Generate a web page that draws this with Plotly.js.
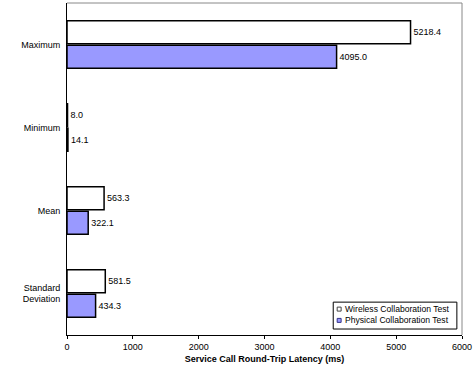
<!DOCTYPE html>
<html><head><meta charset="utf-8">
<script src="https://cdn.plot.ly/plotly-3.0.1.min.js"></script>
<style>html,body{margin:0;padding:0;background:#fff}#c{width:474px;height:366px}</style>
</head><body><div id="c"></div>
<script>
const categories = ["Maximum", "Minimum", "Mean", "Standard<br>Deviation"];
const wireless = [5218.4, 8.0, 563.3, 581.5];
const physical = [4095.0, 14.1, 322.1, 434.3];
const seriesNames = ["Wireless Collaboration Test", "Physical Collaboration Test"];
const seriesColors = ["#ffffff", "#9999ff"];
const xTicks = [0, 1000, 2000, 3000, 4000, 5000, 6000];

const fnt = {family: "Liberation Sans, Arial, sans-serif", size: 9, color: "#000"};
const mk = (vals, name, color) => ({
  type: "bar", orientation: "h", x: vals, y: categories, name: name,
  marker: {color: color, line: {color: "#000", width: 1.5}},
  text: vals.map(v => v.toFixed(1)), textposition: "outside",
  textfont: fnt, cliponaxis: false, hoverinfo: "skip", showlegend: false
});
const data = [mk(wireless, seriesNames[0], seriesColors[0]), mk(physical, seriesNames[1], seriesColors[1])];

// compact legend box (as in the reference)
const lgX0 = 0.674, lgX1 = 0.987, lgY0 = 0.018, lgY1 = 0.099;
const rowY = [0.078, 0.044];
const shapes = [
  {type: "line", xref: "paper", yref: "paper", x0: 0, x1: 1, y0: 1, y1: 1, line: {color: "#888", width: 1}},
  {type: "line", xref: "paper", yref: "paper", x0: 1, x1: 1, y0: 0, y1: 1, line: {color: "#888", width: 1}},
  {type: "rect", xref: "paper", yref: "paper", x0: lgX0, x1: lgX1, y0: lgY0, y1: lgY1,
    line: {color: "#000", width: 1}, fillcolor: "#fff"}
];
const annotations = [];
seriesNames.forEach((n, i) => {
  shapes.push({type: "rect", xref: "paper", yref: "paper", x0: 0.684, x1: 0.694,
    y0: rowY[i] - 0.006, y1: rowY[i] + 0.006,
    line: {color: i === 0 ? "#444" : "#333388", width: 1}, fillcolor: seriesColors[i]});
  annotations.push({xref: "paper", yref: "paper", x: 0.701, y: rowY[i], xanchor: "left", yanchor: "middle",
    text: n, showarrow: false, borderpad: 0,
    font: {family: fnt.family, size: 8.6, color: "#000"}});
});

const layout = {
  width: 474, height: 366,
  margin: {l: 67, r: 12, t: 3, b: 31},
  paper_bgcolor: "#fff", plot_bgcolor: "#fff",
  barmode: "group", bargap: 0.41, bargroupgap: 0.06,
  font: fnt, showlegend: false,
  xaxis: {range: [0, 6000], tickvals: xTicks, ticktext: xTicks.map(String),
    showgrid: false, zeroline: false, showline: true, linecolor: "#000", linewidth: 1,
    mirror: false, ticks: "outside", ticklen: 3, tickcolor: "#000", tickfont: fnt,
    title: {text: "<b>Service Call Round-Trip Latency (ms)</b>", font: fnt, standoff: 4}},
  yaxis: {categoryorder: "array", categoryarray: categories, autorange: "reversed",
    showgrid: false, zeroline: false, showline: true, linecolor: "#000", linewidth: 1,
    ticks: "", tickfont: fnt, ticklabelstandoff: 4},
  shapes: shapes, annotations: annotations
};
Plotly.newPlot("c", data, layout, {staticPlot: true});
</script></body></html>
